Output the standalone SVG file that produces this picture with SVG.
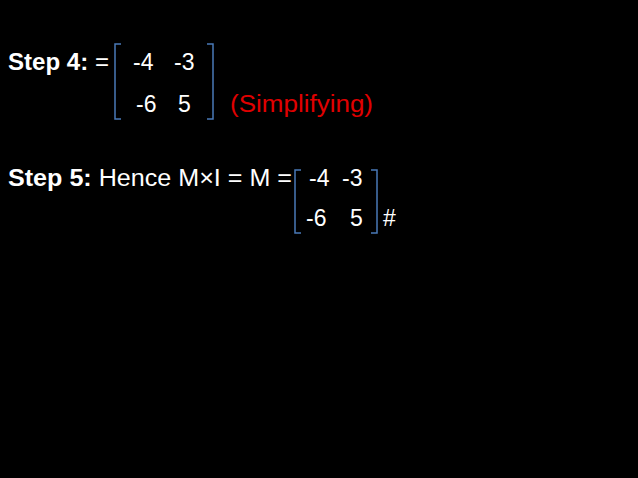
<svg xmlns="http://www.w3.org/2000/svg" width="638" height="478" viewBox="0 0 638 478">
<style>
text{font-family:"Liberation Sans",Arial,sans-serif;font-size:23px;fill:#fff}
.b{font-weight:bold}
.r{fill:#e00000}
.br{fill:none;stroke:#4a7ab8;stroke-width:1.5}
</style>
<rect width="638" height="478" fill="#000"/>
<g id="step4">
<text x="8" y="70" textLength="101" lengthAdjust="spacingAndGlyphs"><tspan class="b">Step 4:</tspan> =</text>
<path class="br" d="M121,44 H115 V119 H121 M207,44 H213 V119 H207"/>
<text x="133" y="70">-4</text><text x="174" y="70">-3</text>
<text x="136" y="112">-6</text><text x="178" y="112">5</text>
<text class="r" x="230" y="112" textLength="143" lengthAdjust="spacingAndGlyphs">(Simplifying)</text>
</g>
<g id="step5">
<text x="8" y="186" textLength="284" lengthAdjust="spacingAndGlyphs"><tspan class="b">Step 5:</tspan> Hence M×I = M =</text>
<path class="br" d="M301,170 H295 V233 H301 M371,170 H377 V233 H371"/>
<text x="309" y="186">-4</text><text x="342" y="186">-3</text>
<text x="306" y="226">-6</text><text x="350" y="226">5</text>
<text x="383" y="226">#</text>
</g>
</svg>
